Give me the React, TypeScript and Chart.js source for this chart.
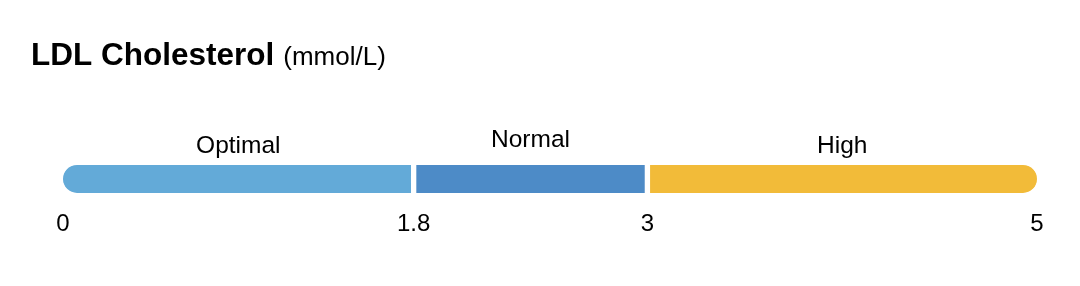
import React, { useEffect, useRef } from "react";
import { Chart, registerables } from "chart.js";

Chart.register(...registerables);

const titleMain = "LDL Cholesterol";
const titleUnit = "(mmol/L)";
const categories = ["Optimal", "Normal", "High"];
const rangeStarts = [0, 1.8, 3];
const rangeEnds = [1.8, 3, 5];
const tickValues = [0, 1.8, 3, 5];
const colors = ["#63aad8", "#4d8bc7", "#f2bb39"];

const FONT = "'Liberation Sans', Arial, sans-serif";

const titlePlugin = {
  id: "titlePlugin",
  afterDraw(chart: any) {
    const ctx = chart.ctx;
    ctx.save();
    ctx.fillStyle = "#000";
    ctx.textBaseline = "alphabetic";
    ctx.textAlign = "left";
    ctx.font = `bold 31.5px ${FONT}`;
    ctx.fillText(titleMain, 31, 65);
    const w = ctx.measureText(titleMain).width;
    ctx.font = `26px ${FONT}`;
    ctx.fillText(titleUnit, 31 + w + 9, 65);
    ctx.restore();
  },
};

const labelOffsets = [0, 6, 0];

const segLabelPlugin = {
  id: "segLabelPlugin",
  afterDatasetsDraw(chart: any) {
    const ctx = chart.ctx;
    ctx.save();
    ctx.fillStyle = "#000";
    ctx.font = `24.5px ${FONT}`;
    ctx.textAlign = "center";
    ctx.textBaseline = "alphabetic";
    chart.data.datasets.forEach((ds: any, i: number) => {
      const meta = chart.getDatasetMeta(i);
      const el = meta.data[0];
      if (!el) return;
      const cx = (el.x + el.base) / 2;
      const top = el.y - el.height / 2;
      ctx.fillText(ds.label, cx, top - 12 - labelOffsets[i]);
    });
    ctx.restore();
  },
};

export default function App() {
  const ref = useRef<HTMLCanvasElement>(null);
  useEffect(() => {
    document.body.style.margin = "0";
    const n = categories.length;
    const datasets = categories.map((c, i) => {
      const br: any =
        i === 0
          ? { topLeft: 14, bottomLeft: 14, topRight: 0, bottomRight: 0 }
          : i === n - 1
          ? { topLeft: 0, bottomLeft: 0, topRight: 14, bottomRight: 14 }
          : 0;
      const bw: any = {
        top: 0,
        bottom: 0,
        left: i === 0 ? 0 : 3,
        right: i === n - 1 ? 0 : 3,
      };
      return {
        label: c,
        data: [{ x: [rangeStarts[i], rangeEnds[i]], y: 0 }],
        backgroundColor: colors[i],
        borderColor: "#ffffff",
        borderWidth: bw,
        borderSkipped: false,
        borderRadius: br,
        barThickness: 28,
        grouped: false,
      };
    });
    const chart = new Chart(ref.current!, {
      type: "bar",
      data: { datasets: datasets as any },
      options: {
        indexAxis: "y",
        animation: false,
        responsive: false,
        maintainAspectRatio: false,
        layout: { padding: { left: 63, right: 43, top: 137, bottom: 39 } },
        plugins: {
          legend: { display: false },
          tooltip: { enabled: false },
          title: { display: false },
        },
        scales: {
          x: {
            type: "linear",
            min: 0,
            max: 5,
            grid: { display: false },
            border: { display: false },
            afterBuildTicks: (axis: any) => {
              axis.ticks = tickValues.map((v) => ({ value: v }));
            },
            ticks: {
              autoSkip: false,
              maxRotation: 0,
              color: "#000",
              padding: 8,
              font: { family: FONT, size: 24 },
              callback: (v: any) => String(v),
            },
          },
          y: { type: "linear", min: -0.3, max: 1.7, display: false },
        },
      },
      plugins: [titlePlugin, segLabelPlugin],
    });
    return () => chart.destroy();
  }, []);
  return <canvas ref={ref} width={1080} height={286} style={{ display: "block" }} />;
}
